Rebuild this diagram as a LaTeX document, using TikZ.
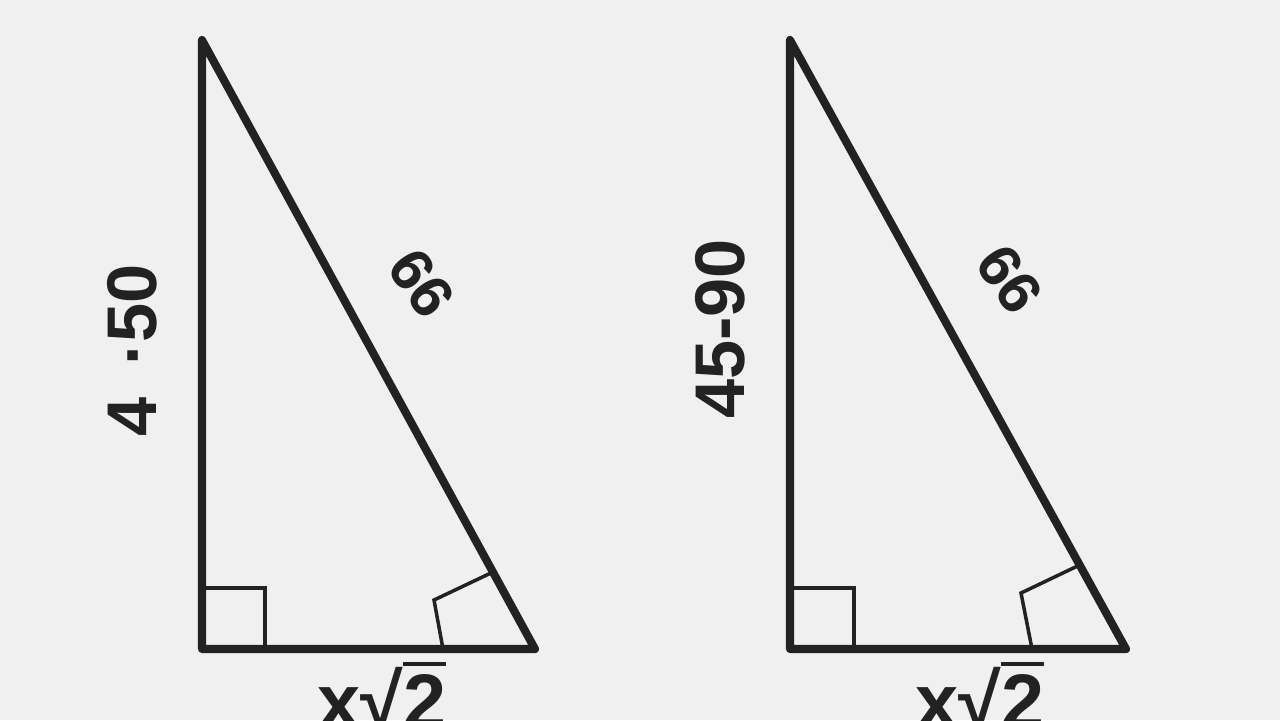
\documentclass[tikz,border=0pt]{standalone}
\usepackage{fontspec}
\setmainfont{Liberation Sans}
\usetikzlibrary{calc}
\definecolor{bggray}{RGB}{240,240,240}
\definecolor{ink}{RGB}{34,34,34}
% overline for the radicand
\newcommand{\vinc}[1]{\setbox0=\hbox{#1}\rlap{\rule[0.80em]{\wd0}{1.3pt}}\box0}
\begin{document}
\begin{tikzpicture}[x=0.01cm,y=-0.01cm,
  side/.style={line width=2.3pt,line join=round,color=ink},
  anglebox/.style={line width=1pt,color=ink},
  lbl/.style={font=\bfseries\fontsize{20}{24}\selectfont,text=ink,inner sep=0pt},
  hyplbl/.style={lbl,font=\bfseries\fontsize{17}{20}\selectfont,rotate=125},
  baselbl/.style={lbl,font=\bfseries\fontsize{22}{26}\selectfont,anchor=base}]
\fill[bggray] (0,0) rectangle (1280,720);
\useasboundingbox (0,0) rectangle (1280,720);
% left triangle
\coordinate (LT) at (202,40);
\coordinate (LB) at (202,649);
\coordinate (LR) at (535,649);
\coordinate (LH) at ($(LT)!0.8736!(LR)$);
\draw[anglebox] (LB |- 0,588) -| (265,649);
\draw[anglebox] (443,649) -- (434,600) -- (LH);
\draw[side] (LT) -- (LB) -- (LR) -- cycle;
\node[lbl,rotate=90] (LLeg) at (132,350) {4 \,·50};
\node[hyplbl] (LHyp) at (422,283) {99};
\node[baselbl] (LBase) at (382,728) {x√\vinc{2}};
% right triangle
\coordinate (RT) at (790,40);
\coordinate (RB) at (790,649);
\coordinate (RR) at (1126,649);
\coordinate (RH) at ($(RT)!0.862!(RR)$);
\draw[anglebox] (RB |- 0,588) -| (854,649);
\draw[anglebox] (1032,649) -- (1021,593) -- (RH);
\draw[side] (RT) -- (RB) -- (RR) -- cycle;
\node[lbl,rotate=90] (RLeg) at (720,329) {45-90};
\node[hyplbl] (RHyp) at (1010,279) {99};
\node[baselbl] (RBase) at (980,728) {x√\vinc{2}};
\end{tikzpicture}
\end{document}
